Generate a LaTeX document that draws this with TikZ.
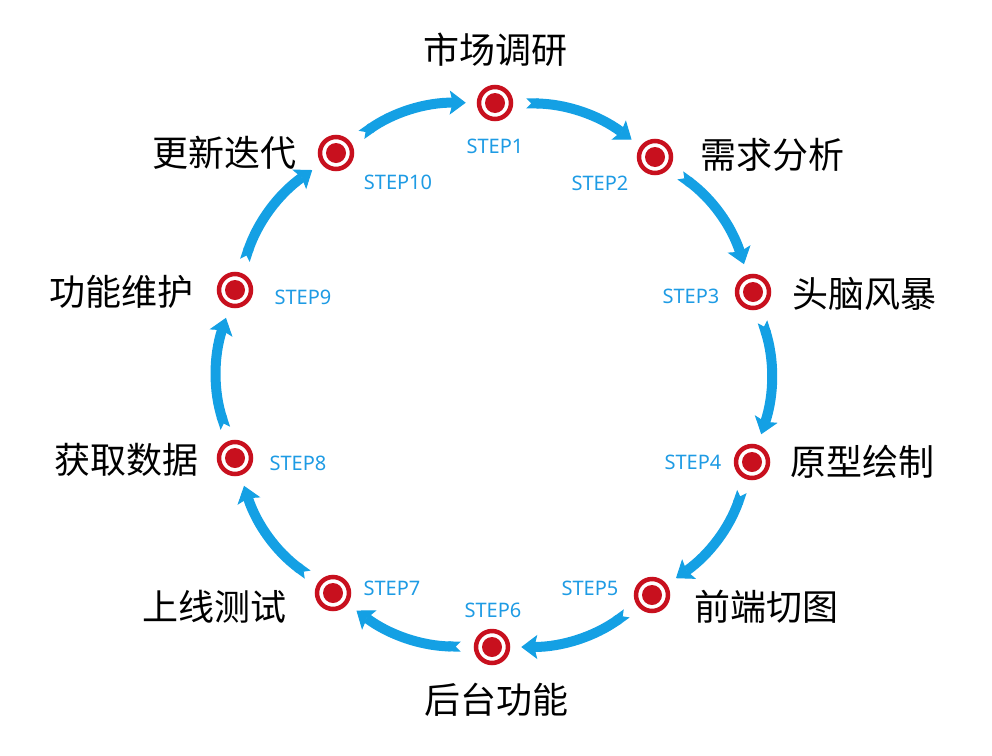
\documentclass[tikz,border=0pt]{standalone}
\usepackage{fontspec}
\setsansfont{Noto Sans}
\newfontfamily\cjk{Noto Sans CJK SC}
\usepackage{xcolor}
\usetikzlibrary{arrows.meta}
\definecolor{dotred}{RGB}{200,16,30}
\definecolor{flowblue}{RGB}{20,160,228}
\definecolor{steptext}{RGB}{30,155,228}

\begin{document}
\begin{tikzpicture}[x=1pt,y=-1pt,
  stepdot/.style={circle,draw=dotred,line width=4.5pt,fill=white,minimum size=32pt,inner sep=0pt,
    path picture={\fill[dotred] (path picture bounding box.center) circle (10pt);}},
  steplabel/.style={text=steptext,font=\sffamily\fontsize{20}{20}\selectfont,inner sep=0pt},
  tasklabel/.style={font=\cjk\fontsize{36}{36}\selectfont,inner sep=0pt},
  flow/.style={draw=flowblue,line width=10pt,
    {Triangle Cap[reversed]}-{Stealth[length=16pt,width=24pt,inset=3pt,line width=1pt]},
    bend left=18,shorten <=13pt,shorten >=11pt}]
\useasboundingbox (0,0) rectangle (992,755);
\foreach \n/\x/\y in {1/495/103,2/655/157,3/753/292,4/752/462,5/652/595,
  6/492/647,7/333/593,8/235/458,9/235/290,10/336/153}
  \node[stepdot] (s\n) at (\x,\y) {};
\foreach \n/\x/\y in {1/495/146,2/600/183,3/691/296,4/693/462,5/590/588,
  6/493/610,7/392/588,8/298/463,9/303/297,10/398/182}
  \node[steplabel] (l\n) at (\x,\y) {STEP\n};
\node[tasklabel] (t1) at (495,50) {市场调研};
\node[tasklabel] (t2) at (772,155) {需求分析};
\node[tasklabel] (t3) at (864,294) {头脑风暴};
\node[tasklabel] (t4) at (862,462) {原型绘制};
\node[tasklabel] (t5) at (766,607) {前端切图};
\node[tasklabel] (t6) at (496,700) {后台功能};
\node[tasklabel] (t7) at (214,607) {上线测试};
\node[tasklabel] (t8) at (126,460) {获取数据};
\node[tasklabel] (t9) at (121,292) {功能维护};
\node[tasklabel] (t10) at (224,153) {更新迭代};
\draw[flow] (s1) to (s2);
\draw[flow] (s2) to (s3);
\draw[flow] (s3) to (s4);
\draw[flow] (s4) to (s5);
\draw[flow] (s5) to (s6);
\draw[flow] (s6) to (s7);
\draw[flow] (s7) to (s8);
\draw[flow] (s8) to (s9);
\draw[flow] (s9) to (s10);
\draw[flow] (s10) to (s1);
\end{tikzpicture}
\end{document}
